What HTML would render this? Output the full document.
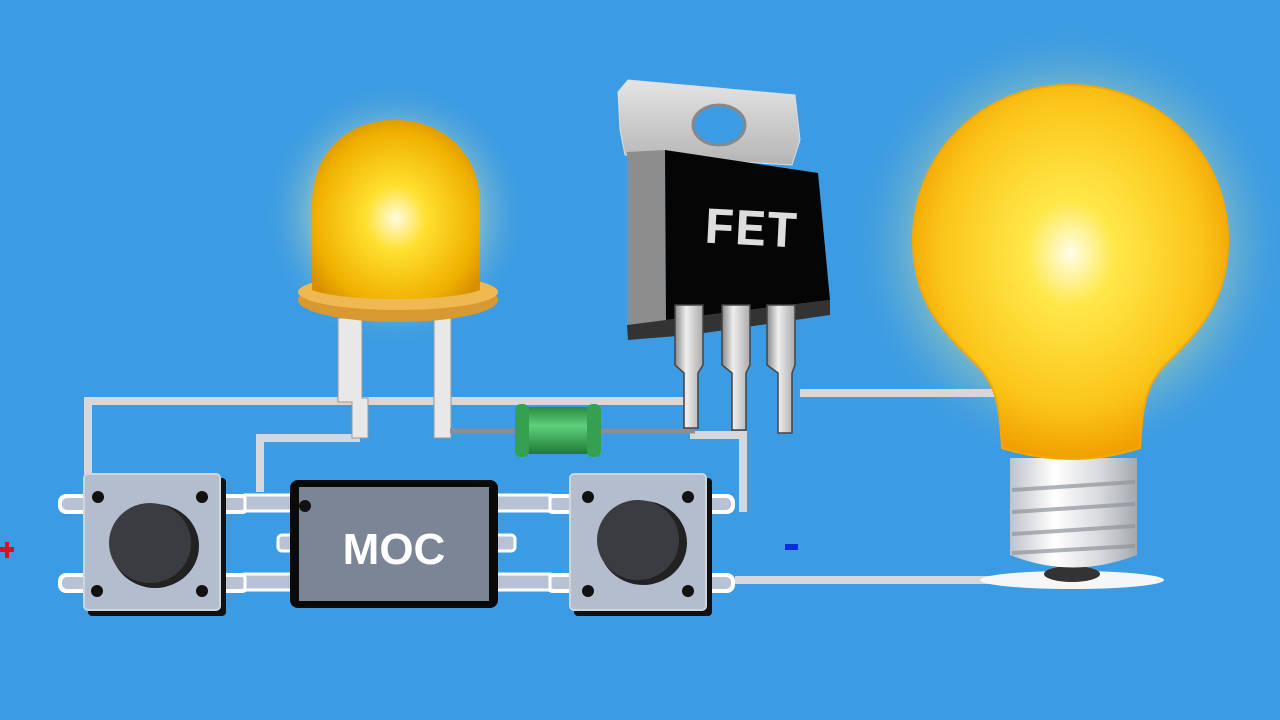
<!DOCTYPE html>
<html><head><meta charset="utf-8"><style>
html,body{margin:0;padding:0;background:#3b9be3;}
svg{display:block}
</style></head><body>
<svg width="1280" height="720" viewBox="0 0 1280 720" xmlns="http://www.w3.org/2000/svg">
<defs>
<radialGradient id="ledg" cx="0.5" cy="0.5" r="0.5"><stop offset="0" stop-color="#fffbd0" stop-opacity="0.95"/><stop offset="0.5" stop-color="#f3f0a8" stop-opacity="0.6"/><stop offset="1" stop-color="#3b9be3" stop-opacity="0"/></radialGradient>
<radialGradient id="ledd" cx="0.5" cy="0.55" r="0.6"><stop offset="0" stop-color="#fffbe0"/><stop offset="0.3" stop-color="#ffe030"/><stop offset="0.8" stop-color="#f0b000"/><stop offset="1" stop-color="#d89000"/></radialGradient>
<radialGradient id="bulbg" cx="0.5" cy="0.5" r="0.5"><stop offset="0" stop-color="#fff8c0" stop-opacity="0.9"/><stop offset="0.6" stop-color="#e8eb9a" stop-opacity="0.5"/><stop offset="1" stop-color="#3b9be3" stop-opacity="0"/></radialGradient>
<radialGradient id="bulbd" cx="0.5" cy="0.45" r="0.55"><stop offset="0" stop-color="#fffde8"/><stop offset="0.25" stop-color="#ffe84a"/><stop offset="0.75" stop-color="#fbc518"/><stop offset="1" stop-color="#f0a000"/></radialGradient>
<linearGradient id="base" x1="0" x2="1"><stop offset="0" stop-color="#bfc3c8"/><stop offset="0.35" stop-color="#ffffff"/><stop offset="0.7" stop-color="#d8dadd"/><stop offset="1" stop-color="#a5a9ae"/></linearGradient>
<linearGradient id="res" x1="0" y1="0" x2="0" y2="1"><stop offset="0" stop-color="#2a8a40"/><stop offset="0.4" stop-color="#5fd07a"/><stop offset="1" stop-color="#1f7a33"/></linearGradient>
<linearGradient id="tab" x1="0" y1="0" x2="0" y2="1"><stop offset="0" stop-color="#e4e4e4"/><stop offset="1" stop-color="#b5b5b5"/></linearGradient>
<linearGradient id="leg" x1="0" x2="1"><stop offset="0" stop-color="#888"/><stop offset="0.4" stop-color="#eee"/><stop offset="1" stop-color="#aaa"/></linearGradient>
</defs>
<rect width="1280" height="720" fill="#3b9be3"/>
<circle cx="395" cy="215" r="135" fill="url(#ledg)"/>
<circle cx="1070" cy="245" r="225" fill="url(#bulbg)"/>
<g fill="none" stroke="#d5d7da" stroke-width="8">
<path d="M88 480 V401 H690"/>
<path d="M260 492 V438 H360"/>
<path d="M690 435 H743 V512"/>
<path d="M800 393 H1000"/>
<path d="M735 580 H1000"/>
</g>
<path d="M338 318 h24 v80 h6 v40 h-16 v-36 h-14z" fill="#e8e8e8" stroke="#999" stroke-width="1"/>
<rect x="434" y="318" width="17" height="120" fill="#e8e8e8" stroke="#999" stroke-width="1"/>
<ellipse cx="398" cy="300" rx="100" ry="22" fill="#d89a30"/>
<ellipse cx="398" cy="292" rx="100" ry="18" fill="#f0b850"/>
<path d="M312 290 V205 C312 150 350 120 395 120 C440 120 480 150 480 205 V290 C450 302 342 302 312 290z" fill="url(#ledd)"/>
<line x1="450" y1="431" x2="695" y2="431" stroke="#8a8f96" stroke-width="5"/>
<rect x="520" y="407" width="75" height="47" rx="10" fill="url(#res)"/>
<rect x="515" y="404" width="14" height="53" rx="6" fill="#35a050"/>
<rect x="587" y="404" width="14" height="53" rx="6" fill="#35a050"/>
<path d="M618 92 L628 80 L795 95 L800 140 L792 165 L625 155 L620 130z" fill="url(#tab)" stroke="#ddd"/>
<ellipse cx="719" cy="125" rx="26" ry="20" fill="#3b9be3" stroke="#888" stroke-width="3"/>
<path d="M627 152 L665 150 L666 320 L627 325z" fill="#8d8d8d"/>
<path d="M665 150 L818 173 L830 300 L666 320z" fill="#050505"/>
<path d="M627 325 L666 320 L830 300 L830 315 L690 335 L628 340z" fill="#333"/>
<text x="750" y="245" font-family="'Liberation Mono', 'DejaVu Sans Mono', monospace" font-weight="bold" font-size="52" fill="#ddd" text-anchor="middle" transform="rotate(3 750 243)">FET</text>
<g fill="url(#leg)" stroke="#444" stroke-width="1.5">
<path d="M675 305 h28 v60 l-5 8 v55 h-14 v-55 l-9 -8z"/>
<path d="M722 305 h28 v60 l-4 8 v57 h-14 v-57 l-10 -8z"/>
<path d="M767 305 h28 v60 l-3 8 v60 h-14 v-60 l-11 -8z"/>
</g>
<g>
<rect x="58" y="494" width="40" height="20" rx="8" fill="#fff"/><rect x="62" y="498" width="32" height="12" rx="5" fill="#b9c2d4"/>
<rect x="58" y="573" width="40" height="20" rx="8" fill="#fff"/><rect x="62" y="577" width="32" height="12" rx="5" fill="#b9c2d4"/>
<rect x="210" y="494" width="40" height="20" rx="8" fill="#fff"/><rect x="214" y="498" width="32" height="12" rx="5" fill="#b9c2d4"/>
<rect x="210" y="573" width="40" height="20" rx="8" fill="#fff"/><rect x="214" y="577" width="32" height="12" rx="5" fill="#b9c2d4"/>
<rect x="88" y="478" width="138" height="138" rx="4" fill="#111"/>
<rect x="84" y="474" width="136" height="136" rx="4" fill="#b4bdcd" stroke="#cfd5df" stroke-width="2"/>
<circle cx="98" cy="497" r="6" fill="#111"/><circle cx="202" cy="497" r="6" fill="#111"/>
<circle cx="97" cy="591" r="6" fill="#111"/><circle cx="202" cy="591" r="6" fill="#111"/>
<ellipse cx="155" cy="546" rx="44" ry="42" fill="#222"/><ellipse cx="150" cy="543" rx="41" ry="40" fill="#3a3c42"/>
</g>
<g>
<rect x="545" y="494" width="40" height="20" rx="8" fill="#fff"/><rect x="549" y="498" width="32" height="12" rx="5" fill="#b9c2d4"/>
<rect x="545" y="573" width="40" height="20" rx="8" fill="#fff"/><rect x="549" y="577" width="32" height="12" rx="5" fill="#b9c2d4"/>
<rect x="695" y="494" width="40" height="20" rx="8" fill="#fff"/><rect x="699" y="498" width="32" height="12" rx="5" fill="#b9c2d4"/>
<rect x="695" y="573" width="40" height="20" rx="8" fill="#fff"/><rect x="699" y="577" width="32" height="12" rx="5" fill="#b9c2d4"/>
<rect x="574" y="478" width="138" height="138" rx="4" fill="#111"/>
<rect x="570" y="474" width="136" height="136" rx="4" fill="#b4bdcd" stroke="#cfd5df" stroke-width="2"/>
<circle cx="588" cy="497" r="6" fill="#111"/><circle cx="688" cy="497" r="6" fill="#111"/>
<circle cx="588" cy="591" r="6" fill="#111"/><circle cx="688" cy="591" r="6" fill="#111"/>
<ellipse cx="643" cy="543" rx="44" ry="42" fill="#222"/><ellipse cx="638" cy="540" rx="41" ry="40" fill="#3a3c42"/>
</g>
<g fill="#b9c2d4" stroke="#fff" stroke-width="3">
<rect x="245" y="495" width="60" height="16"/><rect x="245" y="574" width="60" height="16"/>
<rect x="278" y="535" width="30" height="16" rx="4"/>
<rect x="485" y="495" width="65" height="16"/><rect x="485" y="574" width="65" height="16"/>
<rect x="485" y="535" width="30" height="16" rx="4"/>
</g>
<rect x="290" y="480" width="208" height="128" rx="8" fill="#0a0a0a"/>
<rect x="299" y="487" width="190" height="114" fill="#7b8596"/>
<circle cx="305" cy="506" r="6" fill="#111"/>
<text x="394" y="564" font-family="Liberation Sans, sans-serif" font-weight="bold" font-size="44" fill="#fff" text-anchor="middle">MOC</text>
<ellipse cx="1072" cy="580" rx="92" ry="9" fill="#f4f6f8"/>
<ellipse cx="1072" cy="574" rx="28" ry="8" fill="#333"/>
<path d="M1010 458 H1137 V555 Q1072 580 1010 555z" fill="url(#base)"/>
<g stroke="#8f959c" stroke-width="4" opacity="0.7">
<line x1="1012" y1="490" x2="1135" y2="482"/><line x1="1012" y1="512" x2="1135" y2="504"/>
<line x1="1012" y1="534" x2="1135" y2="526"/><line x1="1012" y1="553" x2="1135" y2="546"/>
</g>
<path d="M1070 85 C1160 85 1228 155 1228 240 C1228 305 1195 335 1165 365 C1145 385 1142 410 1140 448 Q1072 470 1002 448 C1000 410 997 385 977 365 C947 335 913 305 913 240 C913 155 980 85 1070 85z" fill="url(#bulbd)" stroke="#f5a800" stroke-width="2"/>
<rect x="0" y="547" width="14" height="5" fill="#e0101a"/><rect x="5" y="542" width="4" height="16" fill="#e0101a"/>
<rect x="785" y="544" width="13" height="6" fill="#0b2fd8"/>
</svg>
</body></html>
